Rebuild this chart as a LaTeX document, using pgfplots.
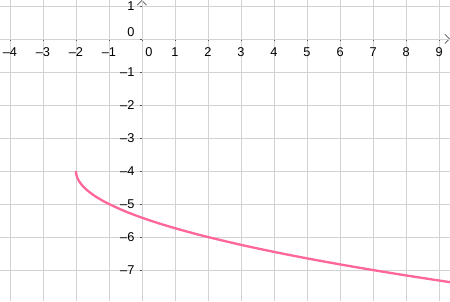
\documentclass[border=0pt]{standalone}
\usepackage{fontspec}
\setmainfont{Liberation Sans}
\usepackage{pgfplots}
\pgfplotsset{compat=1.18}
\usetikzlibrary{arrows.meta}
\definecolor{curve}{RGB}{255,102,153}
\definecolor{gridc}{RGB}{211,211,211}
\definecolor{axc}{RGB}{85,85,85}
\begin{document}
\begin{tikzpicture}
\begin{axis}[
  x=1cm, y=1cm,
  xmin=-4.3, xmax=9.33, ymin=-7.94, ymax=1.18,
  axis lines=middle,
  axis line style={color=axc, line width=0.6pt, -{Straight Barb[length=4pt,width=8pt]}},
  xtick={-4,-3,-2,-1,1,2,3,4,5,6,7,8,9},
  xticklabels={\textendash4,\textendash3,\textendash2,\textendash1,1,2,3,4,5,6,7,8,9},
  ytick={-7,-6,-5,-4,-3,-2,-1,1},
  yticklabels={\textendash7,\textendash6,\textendash5,\textendash4,\textendash3,\textendash2,\textendash1,1},
  extra x ticks={0}, extra y ticks={0},
  extra x tick labels={0}, extra y tick labels={0},
  extra x tick style={xticklabel style={xshift=6pt}},
  extra y tick style={yticklabel style={yshift=6pt}},
  hide obscured x ticks=false, hide obscured y ticks=false,
  grid=major,
  major grid style={color=gridc, line width=0.5pt},
  tick style={color=axc, line width=0.5pt},
  tick align=outside,
  major tick length=2pt,
  ticklabel style={font=\fontsize{11}{13}\selectfont, color=black},
  xticklabel style={yshift=-2pt},
  yticklabel style={xshift=-1pt},
  clip=true,
]
\addplot[curve, line width=2pt, smooth] coordinates {
(-2,-4) (-1.99,-4.1) (-1.96,-4.2) (-1.91,-4.3) (-1.84,-4.4) (-1.75,-4.5)
(-1.64,-4.6) (-1.51,-4.7) (-1.36,-4.8) (-1.19,-4.9) (-1,-5)
(-0.5,-5.2247) (0,-5.4142) (0.5,-5.5811) (1,-5.7321) (1.5,-5.8708)
(2,-6) (3,-6.2361) (4,-6.4495) (5,-6.6458) (6,-6.8284) (7,-7)
(8,-7.1623) (9,-7.3166) (9.4,-7.3764)
};
\coordinate (bl) at (rel axis cs:0,0);
\coordinate (tr) at (rel axis cs:1,1);
\end{axis}
\pgfresetboundingbox
\useasboundingbox (bl) rectangle (tr);
\end{tikzpicture}
\end{document}
